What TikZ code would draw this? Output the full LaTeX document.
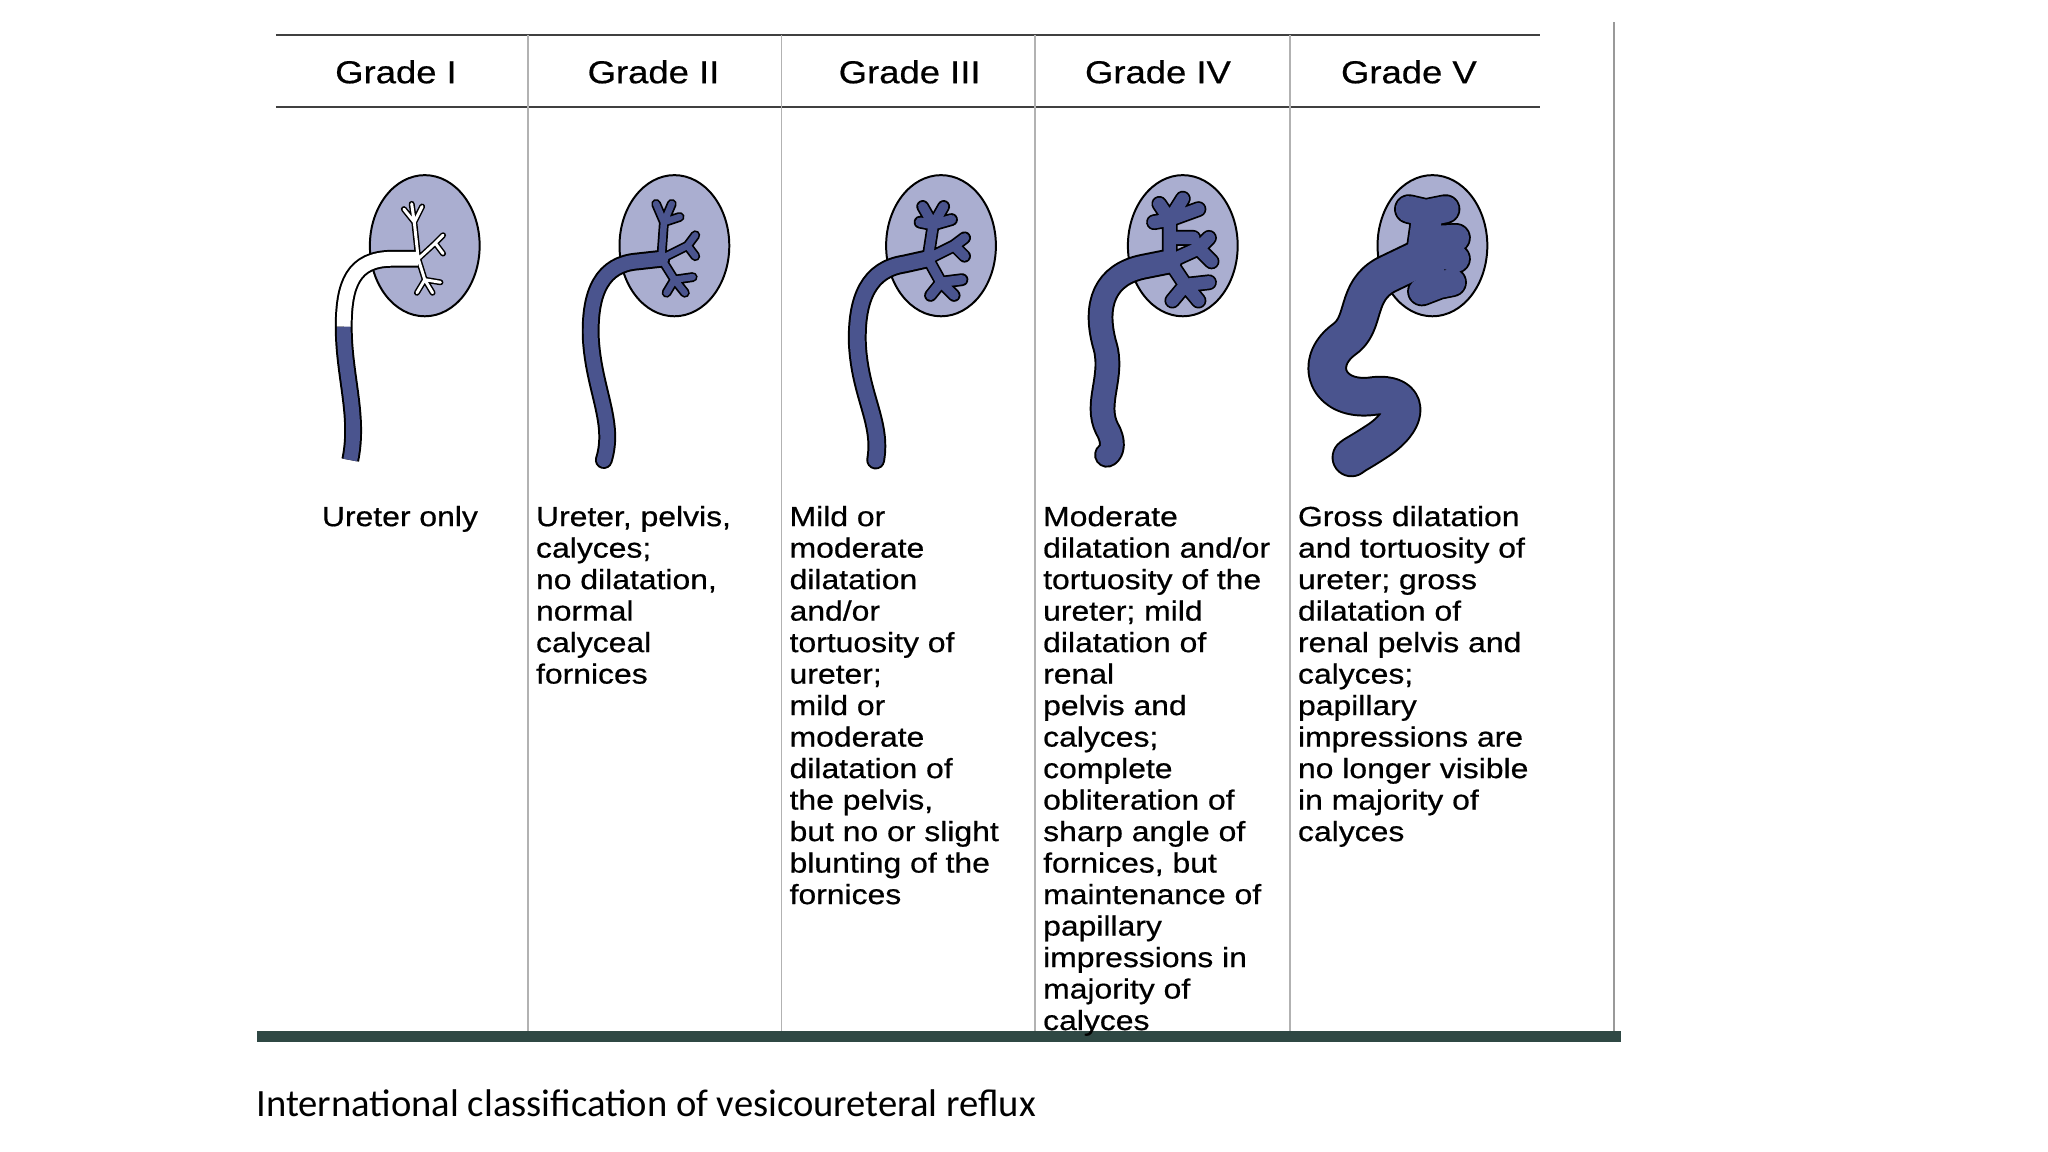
\documentclass[tikz,border=0pt]{standalone}
\usepackage{fontspec}
\setmainfont{Liberation Sans}[FakeStretch=1.15,FakeBold=0.6]
\newfontfamily\capfont{Carlito}
\definecolor{kdark}{RGB}{74,84,142}
\definecolor{klight}{RGB}{170,174,208}
\definecolor{barc}{RGB}{47,72,68}
\begin{document}
\begin{tikzpicture}[x=1.3196pt,y=-1.3196pt,
  hdr/.style={font=\fontsize{32}{36}\selectfont,inner sep=0pt},
  body/.style={font=\fontsize{28}{31.8}\selectfont,align=left,anchor=north west,inner sep=0pt},
  oval/.style={fill=klight,draw=black,line width=2pt},
  outl/.style={draw=black,line cap=round,line join=round},
  inn/.style={draw=kdark,line cap=round,line join=round},
  rule/.style={line width=2.2pt,draw=black!75},
  colline/.style={line width=1.8pt,draw=black!30}]
\useasboundingbox (0,0) rectangle (1567,881.4);
% table lines
\draw[rule] (211,27) -- (1178,27);
\draw[rule] (211,82) -- (1178,82);
\foreach \xx in {404,598,792,987} \draw[colline] (\xx,82) -- (\xx,790);
\foreach \xx in {404,598,792,987} \draw[colline] (\xx,27) -- (\xx,82);
\draw[line width=2pt,draw=black!40] (1235,17) -- (1235,790);
\fill[barc] (197,789) rectangle (1240,797);
% headers
\node[hdr] (h1) at (303,55) {Grade I};
\node[hdr] (h2) at (500,55) {Grade II};
\node[hdr] (h3) at (696,55) {Grade III};
\node[hdr] (h4) at (886,55) {Grade IV};
\node[hdr] (h5) at (1078,55) {Grade V};
% kidney I
\begin{scope}[shift={(325,188)}]
\draw[oval] (0,0) ellipse (42 and 54);
\draw[outl,line width=18pt,line cap=butt] (-5,10) -- (-25,10) .. controls (-55,10) and (-62,30) .. (-62,62) .. controls (-62,100) and (-50,130) .. (-57,164);
\draw[outl,line width=6pt] (-5,10) -- (-8,-18) -- (-10,-32) (-8,-18) -- (-2,-30) (-8,-18)--(-16,-28) (-5,10) -- (8,-2) -- (14,-8) (8,-2)--(14,6) (-5,10)--(0,26)--(-6,36) (0,26)--(6,36) (0,26)--(12,28);
\draw[draw=white,line width=14pt,line cap=butt] (-5,10) -- (-25,10) .. controls (-55,10) and (-62,30) .. (-62,62);
\draw[draw=white,line width=3pt,line cap=round] (-5,10) -- (-8,-18) -- (-10,-32) (-8,-18) -- (-2,-30) (-8,-18)--(-16,-28) (-5,10) -- (8,-2) -- (14,-8) (8,-2)--(14,6) (-5,10)--(0,26)--(-6,36) (0,26)--(6,36) (0,26)--(12,28);
\draw[draw=kdark,line width=14pt,line cap=butt] (-62,62) .. controls (-62,100) and (-50,130) .. (-57,164);
\end{scope}
% kidney II
\begin{scope}[shift={(516,188)}]
\draw[oval] (0,0) ellipse (42 and 54);
\def\upath{(-10,10) -- (-28,12) .. controls (-55,14) and (-65,35) .. (-64,70) .. controls (-62,110) and (-45,135) .. (-54,164)}
\def\cpath{(-10,10) -- (-8,-18) -- (-14,-32) (-8,-18) -- (-2,-32) (-8,-18)--(4,-22) (-10,10) -- (10,0) -- (16,-8) (10,0)--(16,8) (-10,10)--(0,26)--(-6,36) (0,26)--(8,36) (0,26)--(14,24)}
\draw[outl,line width=18pt] \upath;
\draw[outl,line width=10pt] \cpath;
\draw[inn,line width=14pt] \upath;
\draw[inn,line width=6.5pt] \cpath;
\end{scope}
% kidney III
\begin{scope}[shift={(720,188)}]
\draw[oval] (0,0) ellipse (42 and 54);
\def\upath{(-10,10) -- (-28,14) .. controls (-55,18) and (-65,40) .. (-64,75) .. controls (-62,115) and (-45,135) .. (-50,164)}
\def\cpath{(-10,10) -- (-6,-16) -- (-14,-30) (-6,-16) -- (2,-30) (-6,-16)--(8,-20) (-6,-16)--(-16,-18) (-10,10) -- (10,0) -- (18,-6) (10,0)--(18,8) (-10,10)--(0,28)--(-8,38) (0,28)--(10,38) (0,28)--(16,26)}
\draw[outl,line width=19pt] \upath;
\draw[outl,line width=13pt] \cpath;
\draw[inn,line width=15pt] \upath;
\draw[inn,line width=9.5pt] \cpath;
\end{scope}
% kidney IV
\begin{scope}[shift={(905,188)}]
\draw[oval] (0,0) ellipse (42 and 54);
\def\upath{(-10,12) -- (-30,16) .. controls (-60,22) and (-68,45) .. (-60,75) .. controls (-52,100) and (-68,120) .. (-58,140) .. controls (-52,150) and (-54,158) .. (-58,160)}
\def\cpath{(-10,12) -- (-10,-20) -- (-18,-32) (-10,-20) -- (0,-36) (-10,-20)--(12,-28) (-10,-20)--(-22,-18) (-10,-6)--(8,-6) (-10,12) -- (12,2) -- (20,-6) (12,2)--(22,12) (-10,12)--(2,30)--(-8,42) (2,30)--(12,42) (2,30)--(20,28)}
\draw[outl,line width=26pt] \upath;
\draw[outl,line width=16pt] \cpath;
\draw[inn,line width=22pt] \upath;
\draw[inn,line width=12.5pt] \cpath;
\end{scope}
% kidney V
\begin{scope}[shift={(1096,188)}]
\draw[oval] (0,0) ellipse (42 and 54);
\def\upath{(-10,10) -- (-35,22) .. controls (-60,35) and (-50,60) .. (-68,72) .. controls (-92,90) and (-80,120) .. (-45,115) .. controls (-20,112) and (-15,130) .. (-40,148) .. controls (-55,158) and (-60,160) .. (-62,162)}
\def\cpath{(-10,10) -- (-5,-25) -- (-18,-28) (-5,-25)--(10,-28) (-5,-25)--(0,5) (0,-5)--(18,-6) (0,5)--(18,10) (-10,10)--(5,30)--(-8,35) (5,30)--(15,28)}
\draw[outl,line width=40pt] \upath;
\draw[outl,line width=30pt] \cpath;
\draw[inn,line width=36pt] \upath;
\draw[inn,line width=26.5pt] \cpath;
\end{scope}
% descriptions
\node[font=\fontsize{28}{31.8}\selectfont,anchor=north,inner sep=0pt] (t1) at (306,387) {Ureter only};
\node[body] (t2) at (410,387) {Ureter, pelvis,\\calyces;\\no dilatation,\\normal\\calyceal\\fornices};
\node[body] (t3) at (604,387) {Mild or\\moderate\\dilatation\\and/or\\tortuosity of\\ureter;\\mild or\\moderate\\dilatation of\\the pelvis,\\but no or slight\\blunting of the\\fornices};
\node[body] (t4) at (798,387) {Moderate\\dilatation and/or\\tortuosity of the\\ureter; mild\\dilatation of\\renal\\pelvis and\\calyces;\\complete\\obliteration of\\sharp angle of\\fornices, but\\maintenance of\\papillary\\impressions in\\majority of\\calyces};
\node[body] (t5) at (993,387) {Gross dilatation\\and tortuosity of\\ureter; gross\\dilatation of\\renal pelvis and\\calyces;\\papillary\\impressions are\\no longer visible\\in majority of\\calyces};
\node[font=\capfont\fontsize{39}{44}\selectfont,anchor=west,inner sep=0pt] (cap) at (196,844) {International classification of vesicoureteral reflux};
\end{tikzpicture}
\end{document}
